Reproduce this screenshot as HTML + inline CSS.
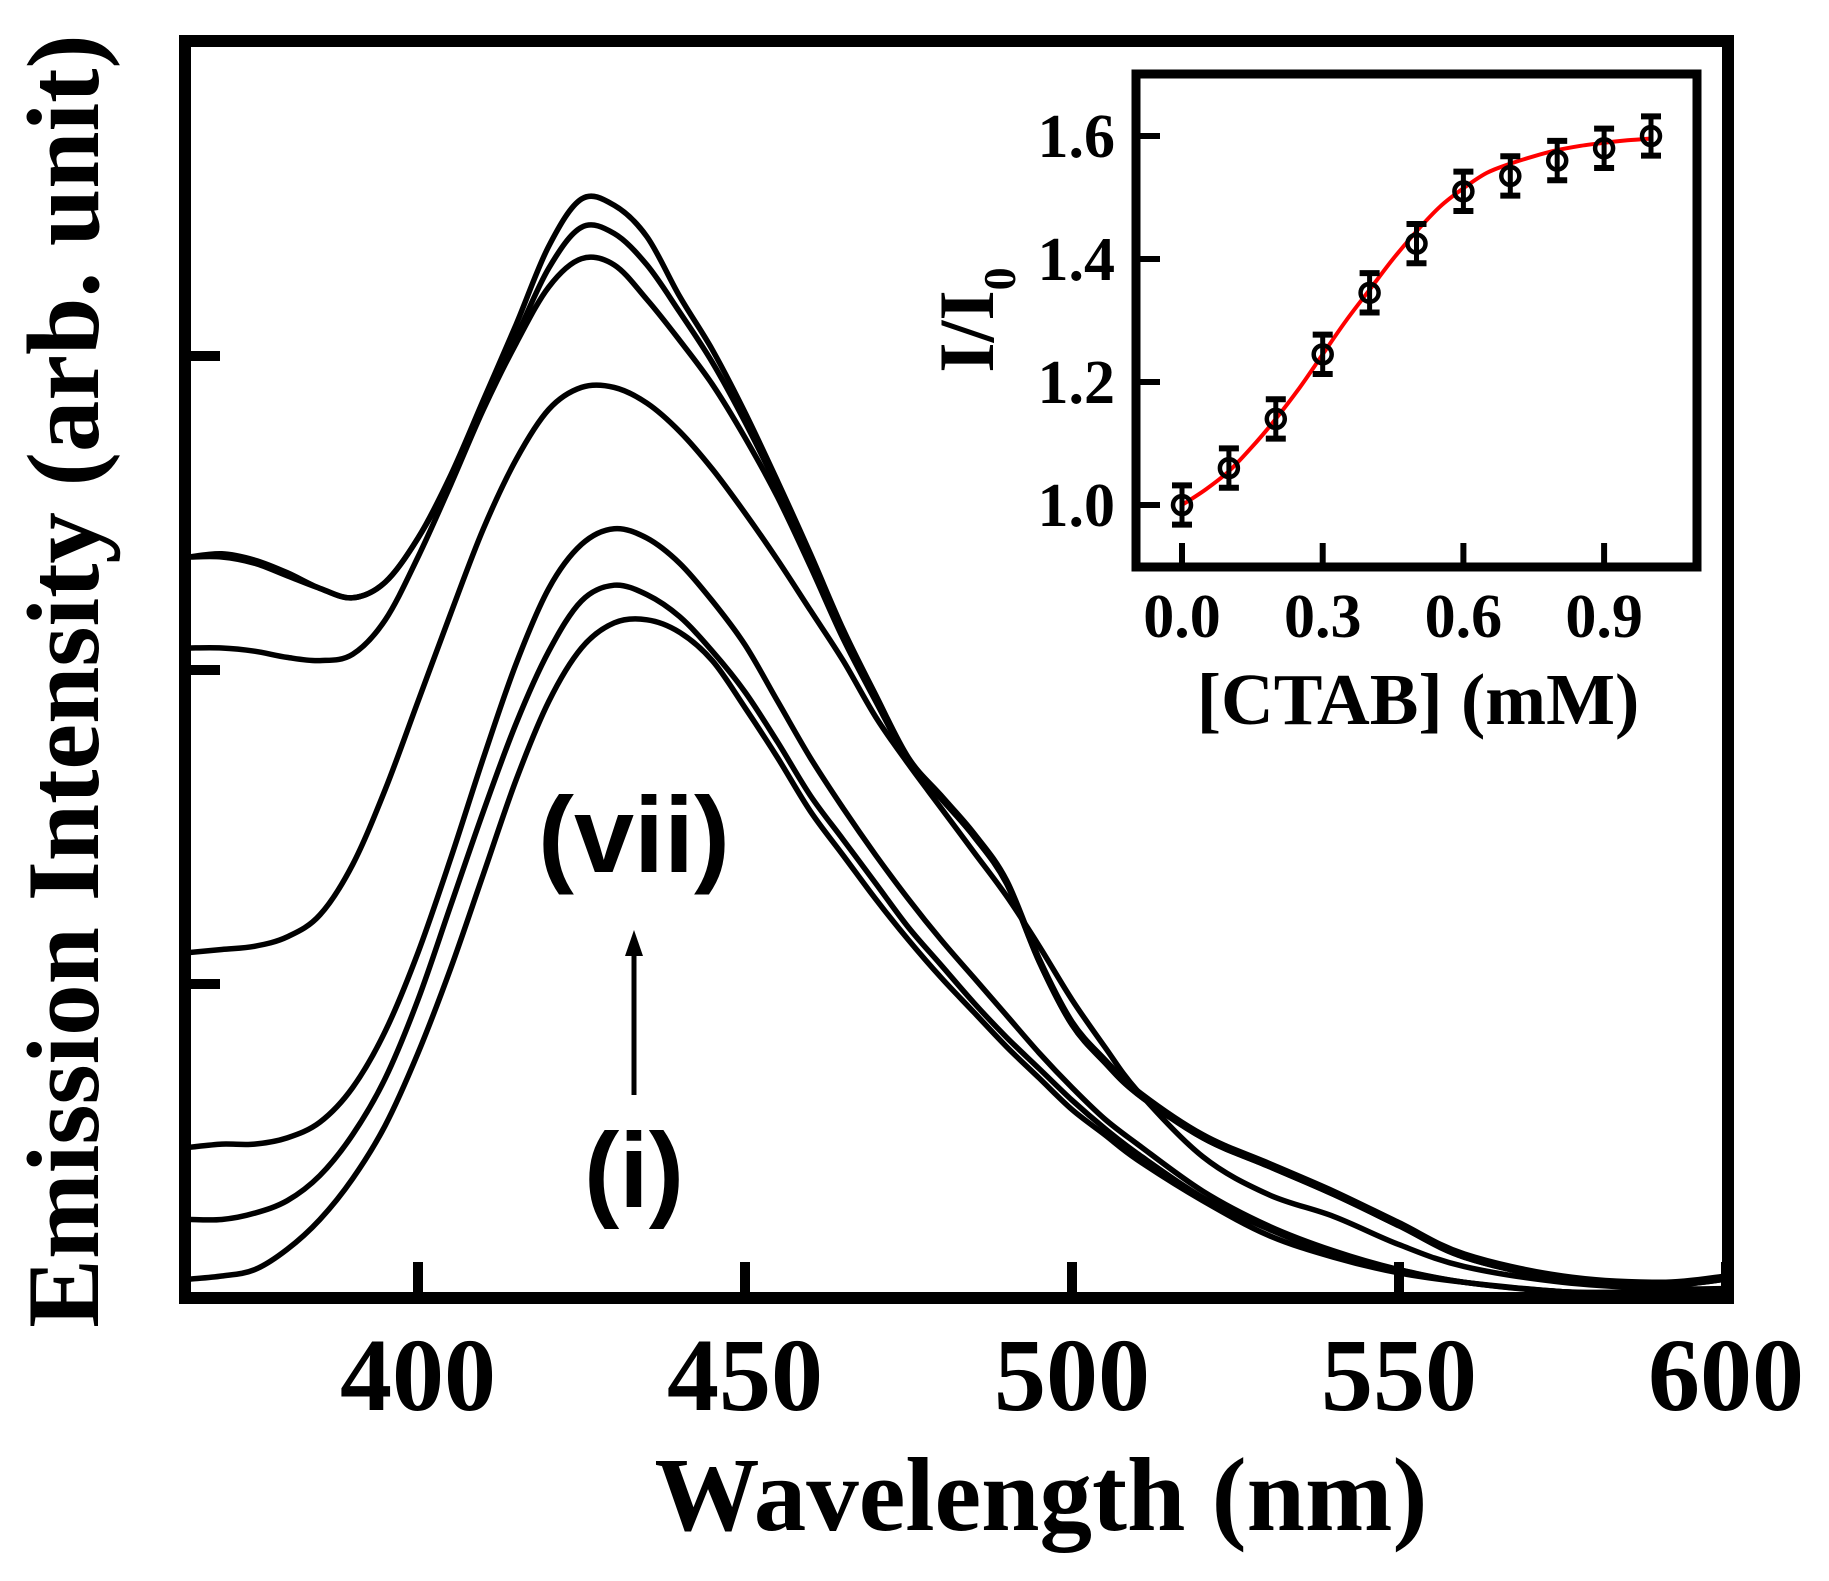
<!DOCTYPE html>
<html><head><meta charset="utf-8"><style>
html,body{margin:0;padding:0;background:#fff;}
svg{display:block;}
text{font-family:"Liberation Serif",serif;font-weight:bold;fill:#000;}
</style></head><body>
<svg id="chart" width="1829" height="1581" viewBox="0 0 1829 1581" xmlns="http://www.w3.org/2000/svg">
<defs><clipPath id="mainclip"><rect x="191" y="47" width="1531" height="1245"/></clipPath></defs>
<g id="main"></g>
<g id="inset"></g>
</svg>
<script>
const wavelengths=[365,370,375,380,385,390,395,400,405,410,415,420,425,430,435,440,445,450,455,460,465,470,475,480,485,490,495,500,505,510,520,530,540,550,560,575,590,600];
const curveI=[0.06,0.07,0.09,0.155,0.25,0.38,0.55,0.78,1.05,1.35,1.65,1.90,2.07,2.15,2.16,2.12,2.03,1.88,1.72,1.55,1.41,1.27,1.14,1.02,0.91,0.80,0.70,0.60,0.52,0.44,0.31,0.20,0.13,0.08,0.05,0.02,0.01,0.01];
const curveII=[0.25,0.25,0.27,0.31,0.39,0.52,0.70,0.95,1.25,1.55,1.83,2.06,2.22,2.27,2.24,2.17,2.06,1.93,1.77,1.60,1.46,1.32,1.18,1.06,0.94,0.83,0.73,0.63,0.54,0.46,0.32,0.22,0.14,0.09,0.05,0.02,0.01,0.01];
const curveIII=[0.48,0.49,0.49,0.51,0.56,0.67,0.85,1.10,1.40,1.72,2.02,2.26,2.40,2.45,2.42,2.34,2.22,2.08,1.90,1.72,1.56,1.41,1.27,1.14,1.02,0.90,0.78,0.67,0.57,0.49,0.34,0.23,0.15,0.09,0.05,0.02,0.02,0.02];
const curveIV=[1.10,1.11,1.12,1.15,1.22,1.38,1.62,1.90,2.18,2.45,2.67,2.83,2.90,2.90,2.85,2.76,2.64,2.50,2.35,2.19,2.03,1.85,1.70,1.56,1.42,1.28,1.12,0.95,0.80,0.66,0.45,0.33,0.26,0.17,0.10,0.05,0.03,0.03];
const curveV=[2.07,2.07,2.06,2.04,2.03,2.05,2.16,2.36,2.59,2.83,3.04,3.22,3.31,3.29,3.18,3.05,2.91,2.74,2.55,2.33,2.10,1.90,1.71,1.59,1.47,1.32,1.07,0.87,0.75,0.65,0.51,0.42,0.33,0.23,0.13,0.06,0.04,0.06];
const curveVI=[2.36,2.36,2.34,2.30,2.26,2.23,2.28,2.42,2.61,2.84,3.06,3.28,3.41,3.39,3.29,3.14,2.98,2.79,2.58,2.35,2.12,1.91,1.71,1.59,1.47,1.32,1.07,0.87,0.75,0.65,0.51,0.42,0.33,0.23,0.13,0.06,0.04,0.06];
const curveVII=[2.36,2.37,2.35,2.31,2.26,2.23,2.28,2.42,2.62,2.86,3.10,3.35,3.50,3.48,3.38,3.19,3.02,2.82,2.60,2.37,2.13,1.92,1.72,1.60,1.48,1.33,1.08,0.88,0.76,0.66,0.52,0.43,0.34,0.24,0.14,0.07,0.05,0.07];
const xTicks=[400,450,500,550,600];
const yTicks=[1,2,3];
const ctab=[0,0.1,0.2,0.3,0.4,0.5,0.6,0.7,0.8,0.9,1.0];
const ratio=[1.0,1.06,1.14,1.245,1.345,1.425,1.51,1.535,1.56,1.58,1.60];
const ratioErr=[0.032,0.032,0.032,0.032,0.032,0.032,0.032,0.032,0.032,0.032,0.032];
const fitX=[0,0.05,0.1,0.15,0.2,0.25,0.3,0.35,0.4,0.45,0.5,0.55,0.6,0.65,0.7,0.75,0.8,0.85,0.9,0.95,1.0];
const fitY=[1.0,1.025,1.055,1.095,1.14,1.19,1.245,1.30,1.35,1.40,1.445,1.485,1.515,1.54,1.555,1.567,1.577,1.584,1.589,1.593,1.596];
const insetXTicks=[0.0,0.3,0.6,0.9];
const insetXLabels=["0.0","0.3","0.6","0.9"];
const insetYTicks=[1.0,1.2,1.4,1.6];
const insetYLabels=["1.0","1.2","1.4","1.6"];

const NS="http://www.w3.org/2000/svg";
function mk(tag,attrs,parent,txt){const e=document.createElementNS(NS,tag);for(const k in attrs)e.setAttribute(k,attrs[k]);if(txt!==undefined)e.textContent=txt;parent.appendChild(e);return e;}
const X=nm=>418+(nm-400)*6.54;
const Y=v=>1298-v*314;
const IX=c=>1182+c*469;
const IY=r=>505-(r-1)*615;
function smooth(pts){let d="M"+pts[0][0].toFixed(1)+","+pts[0][1].toFixed(1);
 for(let i=0;i<pts.length-1;i++){const p0=pts[i-1]||pts[i],p1=pts[i],p2=pts[i+1],p3=pts[i+2]||p2;
  const c1=[p1[0]+(p2[0]-p0[0])/6,p1[1]+(p2[1]-p0[1])/6],c2=[p2[0]-(p3[0]-p1[0])/6,p2[1]-(p3[1]-p1[1])/6];
  d+=" C"+c1[0].toFixed(1)+","+c1[1].toFixed(1)+" "+c2[0].toFixed(1)+","+c2[1].toFixed(1)+" "+p2[0].toFixed(1)+","+p2[1].toFixed(1);}
 return d;}
const main=document.getElementById('main');
const curves=[curveI,curveII,curveIII,curveIV,curveV,curveVI,curveVII];
const names=['i','ii','iii','iv','v','vi','vii'];
const cg=mk('g',{'clip-path':'url(#mainclip)'},main);
curves.forEach((c,k)=>{
 const p=mk('path',{d:smooth(c.map((v,i)=>[X(wavelengths[i]),Y(v)])),fill:'none',stroke:'#000','stroke-width':5.5,'stroke-linejoin':'round'},cg);
 
 
});
xTicks.forEach(t=>{
 const l=mk('line',{x1:X(t),x2:X(t),y1:1292,y2:1262,stroke:'#000','stroke-width':10},main);
 
 
 const tx=mk('text',{x:X(t),y:1410,'text-anchor':'middle','font-size':104},main,String(t));
 
 
});
yTicks.forEach(t=>{
 const l=mk('line',{x1:191,x2:220,y1:Y(t),y2:Y(t),stroke:'#000','stroke-width':10},main);
 
 
});
const fr=mk('rect',{x:185,y:41,width:1543,height:1257,fill:'none',stroke:'#000','stroke-width':12},main);



const inset=document.getElementById('inset');
mk('rect',{x:1136,y:74,width:561,height:493,fill:'#fff',stroke:'none'},inset);
const fp=mk('path',{d:smooth(fitX.map((c,i)=>[IX(c),IY(fitY[i])])),fill:'none',stroke:'#f00','stroke-width':4},inset);


ctab.forEach((c,i)=>{
 const g=mk('g',{},inset);
 
 
 const x=IX(c),y=IY(ratio[i]),e=ratioErr[i]*615;
 mk('line',{x1:x,x2:x,y1:y-e,y2:y+e,stroke:'#000','stroke-width':5},g);
 mk('line',{x1:x-10,x2:x+10,y1:y-e,y2:y-e,stroke:'#000','stroke-width':6},g);
 mk('line',{x1:x-10,x2:x+10,y1:y+e,y2:y+e,stroke:'#000','stroke-width':6},g);
 mk('circle',{cx:x,cy:y,r:9,fill:'none',stroke:'#000','stroke-width':4.5},g);
});
insetXTicks.forEach((t,i)=>{
 const l=mk('line',{x1:IX(t),x2:IX(t),y1:563,y2:543,stroke:'#000','stroke-width':6},inset);
 
 
 const tx=mk('text',{x:IX(t),y:637,'text-anchor':'middle','font-size':62},inset,insetXLabels[i]);
 
 
});
insetYTicks.forEach((t,i)=>{
 const l=mk('line',{x1:1140,x2:1160,y1:IY(t),y2:IY(t),stroke:'#000','stroke-width':6},inset);
 
 
 const tx=mk('text',{x:1115,y:IY(t)+21,'text-anchor':'end','font-size':62},inset,insetYLabels[i]);
 
 
});
const ifr=mk('rect',{x:1136,y:74,width:561,height:493,fill:'none',stroke:'#000','stroke-width':9},inset);


</script>
<svg style="position:absolute;left:0;top:0" width="1829" height="1581" xmlns="http://www.w3.org/2000/svg">
<text x="1041" y="1530" text-anchor="middle" font-size="105" style="font-family:'Liberation Serif',serif;font-weight:bold">Wavelength (nm)</text>
<text transform="translate(98,681) rotate(-90)" text-anchor="middle" font-size="103" style="font-family:'Liberation Serif',serif;font-weight:bold">Emission Intensity (arb. unit)</text>
<text transform="translate(993,320) rotate(-90)" text-anchor="middle" font-size="78" style="font-family:'Liberation Serif',serif;font-weight:bold">I/I<tspan font-size="46" dy="22">0</tspan></text>
<text x="1418" y="724" text-anchor="middle" font-size="73" style="font-family:'Liberation Serif',serif;font-weight:bold">[CTAB] (mM)</text>
<text x="634" y="872" text-anchor="middle" font-size="108" style="font-family:'Liberation Sans',sans-serif;font-weight:bold">(vii)</text>
<text x="634" y="1207" text-anchor="middle" font-size="106" style="font-family:'Liberation Sans',sans-serif;font-weight:bold">(i)</text>
<g>
<line x1="634" y1="1095" x2="634" y2="950" stroke="#000" stroke-width="5"/>
<polygon points="634,930 625,956 643,956" fill="#000"/>
</g>
</svg>
</body></html>
